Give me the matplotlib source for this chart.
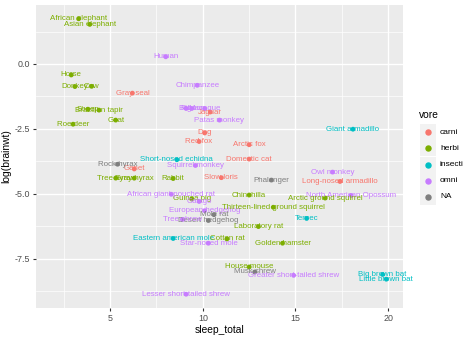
import numpy as np
import matplotlib
matplotlib.use("Agg")
import matplotlib.pyplot as plt
from matplotlib.patches import Rectangle

plt.rcParams['font.family'] = ['Liberation Sans', 'DejaVu Sans']

# msleep rows that have a brain weight
names = [
    "Owl monkey", "Greater short-tailed shrew", "Cow", "Dog", "Roe deer", "Goat",
    "Guinea pig", "Chinchilla", "Star-nosed mole", "African giant pouched rat",
    "Lesser short-tailed shrew", "Long-nosed armadillo", "Tree hyrax",
    "North American Opossum", "Asian elephant", "Big brown bat", "Horse", "Donkey",
    "European hedgehog", "Patas monkey", "Domestic cat", "Galago", "Gray seal",
    "Gray hyrax", "Human", "African elephant", "Macaque", "Golden hamster",
    "House mouse", "Little brown bat", "Slow loris", "Arctic ground squirrel",
    "Phalanger", "Pig", "Rabbit", "Sheep", "Chimpanzee", "Jaguar", "Baboon",
    "Desert hedgehog", "Musk shrew", "Laboratory rat", "Mole rat", "Brazilian tapir",
    "Tenrec", "Tree shrew", "Genet", "Arctic fox", "Red fox", "Eastern american mole",
    "Short-nosed echidna", "Rock hyrax", "Giant armadillo",
    "Thirteen-lined ground squirrel", "Cotton rat", "Squirrel monkey",
]
vore = [
    "omni", "omni", "herbi", "carni", "herbi", "herbi",
    "herbi", "herbi", "omni", "omni",
    "omni", "carni", "herbi",
    "omni", "herbi", "insecti", "herbi", "herbi",
    "omni", "omni", "carni", "omni", "carni",
    "herbi", "omni", "herbi", "omni", "herbi",
    "herbi", "insecti", "carni", "herbi",
    None, "omni", "herbi", "herbi", "omni", "carni", "omni",
    None, None, "herbi", None, "herbi",
    "insecti", "omni", "carni", "carni", "carni", "insecti",
    "insecti", None, "insecti",
    "herbi", "herbi", "omni",
]
sleep_total = [
    17.0, 14.9, 4.0, 10.1, 3.0, 5.3,
    9.4, 12.5, 10.3, 8.3,
    9.1, 17.4, 5.3,
    18.0, 3.9, 19.7, 2.9, 3.1,
    10.1, 10.9, 12.5, 9.8, 6.2,
    6.3, 8.0, 3.3, 10.1, 14.3,
    12.5, 19.9, 11.0, 16.6,
    13.7, 9.1, 8.4, 3.8, 9.7, 10.4, 9.4,
    10.3, 12.8, 13.0, 10.6, 4.4,
    15.6, 8.9, 6.3, 12.5, 9.8, 8.4,
    8.6, 5.4, 18.1,
    13.8, 11.3, 9.6,
]
brainwt = [
    0.0155, 0.00029, 0.423, 0.070, 0.0982, 0.115,
    0.0055, 0.0064, 0.001, 0.0066,
    0.00014, 0.0108, 0.0123,
    0.0063, 4.603, 0.0003, 0.655, 0.419,
    0.0035, 0.115, 0.0256, 0.005, 0.325,
    0.01227, 1.32, 5.712, 0.179, 0.001,
    0.0004, 0.00025, 0.0125, 0.0057,
    0.0114, 0.18, 0.0121, 0.175, 0.44, 0.157, 0.18,
    0.0024, 0.00033, 0.0019, 0.003, 0.169,
    0.0026, 0.0025, 0.0175, 0.0445, 0.0504, 0.0012,
    0.025, 0.021, 0.081,
    0.004, 0.00118, 0.020,
]

vore_levels = ["carni", "herbi", "insecti", "omni", None]
vore_labels = ["carni", "herbi", "insecti", "omni", "NA"]
vore_colors = ["#F8766D", "#7CAE00", "#00BFC4", "#C77CFF", "#7F7F7F"]
cmap = dict(zip(vore_levels, vore_colors))

x = np.array(sleep_total)
y = np.log(np.array(brainwt))
cols = [cmap[v] for v in vore]

fig = plt.figure(figsize=(4.74, 3.38), dpi=100)
ax = fig.add_axes([36 / 474, 30 / 338, 367 / 474, 303 / 338])
ax.set_facecolor("#EBEBEB")

ax.scatter(x, y, c=cols, s=12, linewidths=0, zorder=3)
for xi, yi, lab, c in zip(x, y, names, cols):
    ax.text(xi, yi, lab, color=c, fontsize=5.7, ha="center", va="center", zorder=4)

# x scale trained on all sleep_total values (1.9 .. 19.9) like ggplot
ax.set_xlim(1.0, 20.8)
yr = y.max() - y.min()
ax.set_ylim(y.min() - 0.05 * yr, y.max() + 0.05 * yr)

ax.set_xticks([5, 10, 15, 20])
ax.set_xticks([2.5, 7.5, 12.5, 17.5], minor=True)
ax.set_yticks([0, -2.5, -5, -7.5])
ax.set_yticklabels(["0.0", "-2.5", "-5.0", "-7.5"])
ax.set_yticks([1.25, -1.25, -3.75, -6.25, -8.75], minor=True)
ax.grid(which="major", color="white", linewidth=1.0)
ax.grid(which="minor", color="white", linewidth=0.5)
ax.set_axisbelow(True)
for s in ax.spines.values():
    s.set_visible(False)
ax.tick_params(which="major", length=2.5, width=0.8, color="#333333",
               labelsize=6.4, labelcolor="#4D4D4D", pad=1.5)
ax.tick_params(which="minor", length=0)
ax.set_xlabel("sleep_total", fontsize=7.4, labelpad=2)
ax.set_ylabel("log(brainwt)", fontsize=7.4, labelpad=3)

# legend, drawn as ggplot does it
fig.text(419 / 474, 1 - 115 / 338, "vore", fontsize=7.4, va="center", ha="left")
key_y = 132
for lab, c in zip(vore_labels, vore_colors):
    yc = 1 - key_y / 338
    fig.patches.append(Rectangle((420 / 474, yc - 8 / 338), 16 / 474, 16 / 338,
                                 transform=fig.transFigure, facecolor="#F2F2F2",
                                 edgecolor="none"))
    fig.lines.append(plt.Line2D([428 / 474], [yc], transform=fig.transFigure,
                                marker="o", markersize=3.6, color=c, linestyle="none"))
    fig.text(440 / 474, yc, lab, fontsize=6.0, va="center", ha="left")
    key_y += 16.25

fig.savefig("out.png", dpi=100)
